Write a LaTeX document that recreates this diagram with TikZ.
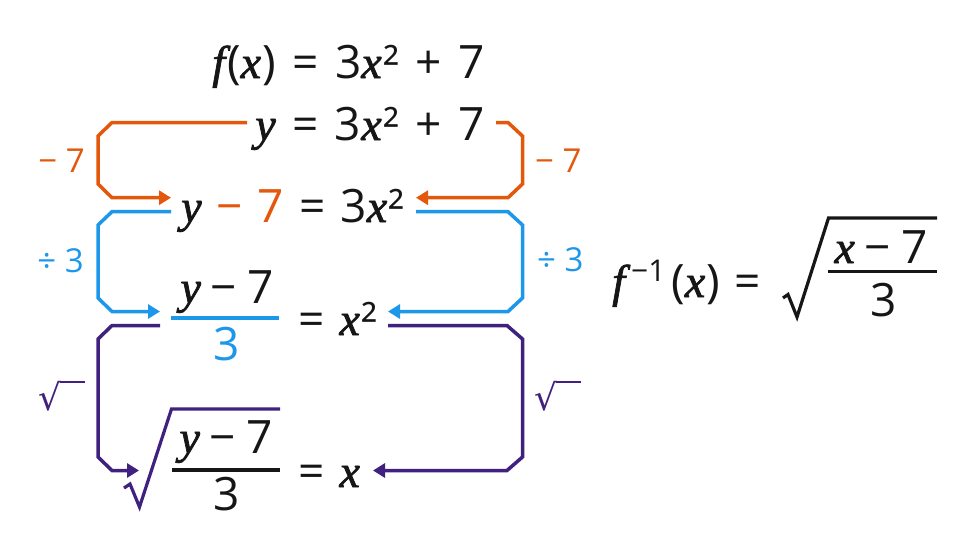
\documentclass[tikz,border=0pt]{standalone}
\usepackage{fontspec}
\setmainfont{Open Sans}
\newfontfamily\dejavu{DejaVu Sans}
\newfontface\vfont{Liberation Serif Italic}[FakeBold=1.6]
\newcommand{\vv}[1]{{\vfont #1}}
\newcommand{\eqfont}{\fontsize{46}{50}\selectfont\spaceskip=16.5pt\relax}
\newcommand{\eqfontm}{\fontsize{46}{50}\selectfont\spaceskip=15pt\relax}
\newcommand{\eqfontn}{\fontsize{46}{50}\selectfont\spaceskip=10pt\relax}
\usetikzlibrary{arrows.meta}
\definecolor{orng}{RGB}{227,88,12}
\definecolor{blu}{RGB}{29,151,234}
\definecolor{purp}{RGB}{64,33,127}
\definecolor{ink}{RGB}{22,22,22}
\begin{document}
\begin{tikzpicture}[x=1pt,y=-1pt,
  eq/.style={inner sep=0pt, font=\eqfont, text=ink},
  eqm/.style={eq, font=\eqfontm},
  eqn/.style={eq, font=\eqfontn},
  sup/.style={inner sep=0pt, font=\fontsize{30}{32}\selectfont, text=ink},
  lab/.style={inner sep=0pt, font=\fontsize{33}{36}\selectfont},
  sqlab/.style={inner sep=0pt, font=\dejavu\fontsize{36}{40}\selectfont},
  conn/.style={line width=3.5pt, -{Triangle[length=12pt,width=14pt]}},
  fbar/.style={line width=3.5pt},
  rad/.style={line width=3.2pt}]
\useasboundingbox[fill=white] (0,0) rectangle (976,549);

% equations
\node[eq, anchor=base east] (title) at (485,78) {\vv{f}\kern2pt(\vv{x}\kern1pt) = 3\vv{x}\kern1.5pt² + 7};
\node[eq, anchor=base east] (r1) at (485,140) {\vv{y} = 3\vv{x}\kern1.5pt² + 7};
\node[eqm, anchor=base west] (r2) at (181,222) {\vv{y} \textcolor{orng}{− 7} = 3\vv{x}\kern1.5pt²};
\node[eqn, anchor=base] (r3n) at (227,303) {\vv{y} − 7};
\node[eq, anchor=base, text=blu] (r3d) at (227,360) {3};
\node[eqm, anchor=base west] (r3r) at (298,335) {= \vv{x}\kern1.5pt²};
\node[eqn, anchor=base] (r4n) at (226,453) {\vv{y} − 7};
\node[eq, anchor=base] (r4d) at (227,510) {3};
\node[eqm, anchor=base west] (r4r) at (298,487) {= \vv{x}};

% fraction bars and radicals
\coordinate (b3a) at (171,318); \coordinate (b3b) at (279,318);
\draw[fbar, blu] (b3a) -- (b3b);
\coordinate (b4a) at (172,470); \coordinate (b4b) at (280,470);
\draw[fbar, ink] (b4a) -- (b4b);
\coordinate (rad4) at (124,488);
\draw[rad, purp] (rad4) -- (130,484) -- (139.5,507) -- (171.5,409) -- (280,409);

% labels
\node[lab, text=orng, anchor=base east] (lm7) at (85,172) {− 7};
\node[lab, text=orng, anchor=base west] (rm7) at (535,172) {− 7};
\node[lab, text=blu, anchor=base east] (ld3) at (84,272) {÷ 3};
\node[lab, text=blu, anchor=base west] (rd3) at (537,271) {÷ 3};
\node[sqlab, text=purp, anchor=base west] (lsq) at (38,410) {√};
\draw[line width=2.6pt, purp] ([xshift=-1.5pt,yshift=-1.3pt]lsq.north east) -- +(25,0);
\node[sqlab, text=purp, anchor=base west] (rsq) at (534,410) {√};
\draw[line width=2.6pt, purp] ([xshift=-1.5pt,yshift=-1.3pt]rsq.north east) -- +(25,0);

% connectors
\coordinate (o1s) at (247,122.5); \coordinate (o1e) at (171,197.7);
\draw[conn, orng] (o1s) -- (112,122.5) -- (98,136) -- (98,184) -- (112,197.7) -- (o1e);
\coordinate (o2s) at (496,122.5); \coordinate (o2e) at (416,197.7);
\draw[conn, orng] (o2s) -- (508,122.5) -- (522.5,136) -- (522.5,184) -- (508,197.7) -- (o2e);
\coordinate (c1s) at (171,211.7); \coordinate (c1e) at (160,311.5);
\draw[conn, blu] (c1s) -- (112,211.7) -- (98,225) -- (98,298) -- (112,311.5) -- (c1e);
\coordinate (c2s) at (416,211.7); \coordinate (c2e) at (388,311.5);
\draw[conn, blu] (c2s) -- (508,211.7) -- (522.5,225) -- (522.5,298) -- (508,311.5) -- (c2e);
\coordinate (p1s) at (160,325.5); \coordinate (p1e) at (139,470.5);
\draw[conn, purp] (p1s) -- (112,325.5) -- (98,339) -- (98,457) -- (112,470.5) -- (p1e);
\coordinate (p2s) at (388,325.5); \coordinate (p2e) at (373,470.5);
\draw[conn, purp] (p2s) -- (507,325.5) -- (522.5,339) -- (522.5,457) -- (507,470.5) -- (p2e);

% inverse function
\node[eq, anchor=base west] (invf) at (612,297) {\vv{f}};
\node[sup, anchor=base west] (invs) at (631,281) {−1};
\node[eqm, anchor=base west] (invx) at (671,297) {(\vv{x}\kern1pt) =};
\node[eqn, anchor=base] (invn) at (881,263) {\vv{x} − 7};
\node[eq, anchor=base] (invd) at (884,316.5) {3};
\coordinate (ib1) at (828,271.7); \coordinate (ib2) at (937,271.7);
\draw[fbar, ink] (ib1) -- (ib2);
\coordinate (irad) at (783,298);
\draw[rad, ink] (irad) -- (788,294.5) -- (797,317) -- (828.5,218) -- (937,218);
\end{tikzpicture}
\end{document}
